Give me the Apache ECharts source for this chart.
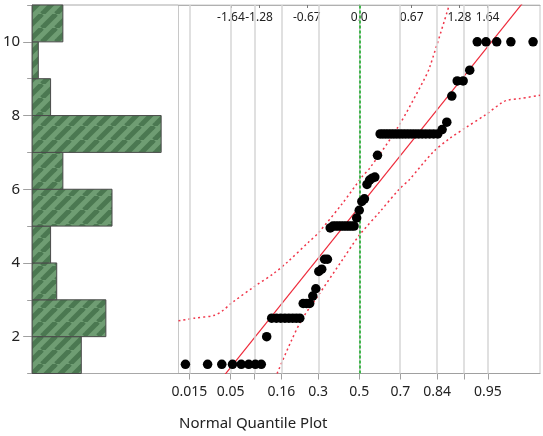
<!DOCTYPE html>
<html><head><meta charset="utf-8">
<script src="https://cdn.jsdelivr.net/npm/echarts@6/dist/echarts.min.js"></script>
<style>html,body{margin:0;padding:0;background:#fff}#c{width:543px;height:436px}</style>
</head><body><div id="c"></div>
<script>
// ---- data ----
const binStarts = [1, 2, 3, 4, 5, 6, 7, 8, 9, 10];
const binCounts = [8, 12, 4, 3, 13, 5, 21, 3, 1, 5];
const histMajorTicks = [2, 4, 6, 8, 10];
const histMinorTicks = [1, 3, 5, 7, 9, 11];
const sortedValues = [
  1.25, 1.25, 1.25, 1.25, 1.25, 1.25, 1.25, 1.25,
  2.0,
  2.5, 2.5, 2.5, 2.5, 2.5, 2.5, 2.5, 2.5,
  2.9, 2.9, 2.9,
  3.1, 3.3, 3.77, 3.83,
  4.1, 4.1, 4.95,
  5.0, 5.0, 5.0, 5.0, 5.0, 5.0, 5.0, 5.0, 5.0,
  5.22, 5.43, 5.67, 5.74,
  6.13, 6.25, 6.3, 6.33, 6.92,
  7.5, 7.5, 7.5, 7.5, 7.5, 7.5, 7.5, 7.5, 7.5, 7.5,
  7.5, 7.5, 7.5, 7.5, 7.5, 7.5, 7.5, 7.5, 7.5,
  7.62, 7.82,
  8.53, 8.94, 8.94,
  9.23,
  10, 10, 10, 10, 10
];
const zTickValues = [-1.64, -1.28, -0.67, 0, 0.67, 1.28, 1.64];
const zTickLabels = ['-1.64', '-1.28', '-0.67', '0.0', '0.67', '1.28', '1.64'];
const probGrid = [0.015, 0.05, 0.09, 0.16, 0.3, 0.5, 0.7, 0.84, 0.91, 0.95];
const probLabels = ['0.015', '0.05', '', '0.16', '0.3', '0.5', '0.7', '0.84', '', '0.95'];
const fitMean = 5.52;
const fitSd = 2.65;
const upperBandZ = [-2.31, -2.11, -1.85, -1.75, -1.62, -1.34, -1.09, -0.92, -0.64, -0.53, -0.21, 0.04, 0.13, 0.49, 0.83, 0.90, 1.15];
const upperBandV = [2.43, 2.50, 2.58, 2.70, 2.93, 3.36, 3.72, 4.02, 4.58, 4.80, 5.63, 6.35, 6.56, 7.67, 8.98, 9.31, 11.0];
const lowerBandZ = [-1.05, -0.87, -0.73, -0.53, -0.21, 0.0, 0.26, 0.51, 0.64, 0.94, 1.15, 1.36, 1.62, 1.83, 1.90, 2.05, 2.31];
const lowerBandV = [1.0, 1.88, 2.48, 3.1, 4.1, 4.75, 5.38, 6.0, 6.26, 7.0, 7.37, 7.67, 8.03, 8.36, 8.42, 8.46, 8.55];

// inverse standard normal CDF (plotting scale of a normal quantile plot)
function normInv(p){
  const a=[-3.969683028665376e+01,2.209460984245205e+02,-2.759285104469687e+02,1.383577518672690e+02,-3.066479806614716e+01,2.506628277459239e+00];
  const b=[-5.447609879822406e+01,1.615858368580409e+02,-1.556989798598866e+02,6.680131188771972e+01,-1.328068155288572e+01];
  const c=[-7.784894002430293e-03,-3.223964580411365e-01,-2.400758277161838e+00,-2.549732539343734e+00,4.374664141464968e+00,2.938163982698783e+00];
  const d=[7.784695709041462e-03,3.224671290700398e-01,2.445134137142996e+00,3.754408661907416e+00];
  const pl=0.02425, ph=1-pl; let q,r;
  if(p<pl){q=Math.sqrt(-2*Math.log(p));return (((((c[0]*q+c[1])*q+c[2])*q+c[3])*q+c[4])*q+c[5])/((((d[0]*q+d[1])*q+d[2])*q+d[3])*q+1);}
  if(p<=ph){q=p-0.5;r=q*q;return (((((a[0]*r+a[1])*r+a[2])*r+a[3])*r+a[4])*r+a[5])*q/(((((b[0]*r+b[1])*r+b[2])*r+b[3])*r+b[4])*r+1);}
  q=Math.sqrt(-2*Math.log(1-p));return -(((((c[0]*q+c[1])*q+c[2])*q+c[3])*q+c[4])*q+c[5])/((((d[0]*q+d[1])*q+d[2])*q+d[3])*q+1);
}

const n = sortedValues.length;
const points = sortedValues.map((v, i) => [normInv((i + 1) / (n + 1)), v]);
const probZ = probGrid.map(normInv);
const labeledZ = probZ.filter((z, i) => probLabels[i] !== '');
const Z_MIN = -2.31, Z_MAX = 2.31;
const fitData = [[Z_MIN, fitMean + fitSd * Z_MIN], [Z_MAX, fitMean + fitSd * Z_MAX]];
const upperData = upperBandZ.map((z, i) => [z, upperBandV[i]]);
const lowerData = lowerBandZ.map((z, i) => [z, lowerBandV[i]]);
const histData = binStarts.map((s, i) => [binCounts[i], s]);

// striped fill
function makeStripes(){
  const P = 14;
  const cv = document.createElement('canvas');
  cv.width = P; cv.height = P;
  const ctx = cv.getContext('2d');
  ctx.fillStyle = '#6f9d73';
  ctx.fillRect(0, 0, P, P);
  ctx.strokeStyle = '#4b7851';
  ctx.lineWidth = 5;
  for (const x0 of [-P, 0, P]) {
    ctx.beginPath(); ctx.moveTo(x0, P); ctx.lineTo(x0 + P, 0); ctx.stroke();
  }
  return cv;
}
const stripe = makeStripes();

const FONT = '"Noto Sans", "Open Sans", sans-serif';
const chart = echarts.init(document.getElementById('c'), null, {renderer: 'canvas'});
chart.setOption({
  animation: false,
  backgroundColor: '#fff',
  title: {
    text: 'Normal Quantile Plot', left: 179, top: 416, padding: 0,
    textStyle: {fontFamily: FONT, fontSize: 15, fontWeight: 'normal', color: '#222'}
  },
  grid: [
    {left: 31.5, top: 5, width: 147, height: 368.5, show: true, borderColor: '#a8a8a8', borderWidth: 1, backgroundColor: 'transparent'},
    {left: 178.5, top: 5, width: 361.5, height: 368.5, show: true, borderColor: '#c8c8c8', borderWidth: 1, backgroundColor: 'transparent'}
  ],
  xAxis: [
    {gridIndex: 0, type: 'value', min: 0, max: 147 / 6.17, show: false},
    {gridIndex: 1, type: 'value', min: Z_MIN, max: Z_MAX, position: 'bottom',
      axisLine: {show: true, lineStyle: {color: '#a0a0a0', width: 1}},
      axisTick: {show: true, length: 6, customValues: probZ, lineStyle: {color: '#a0a0a0'}},
      axisLabel: {show: true, customValues: labeledZ, margin: 12, fontFamily: FONT, fontSize: 14, color: '#222',
        formatter: v => { const i = probZ.findIndex(z => Math.abs(z - v) < 1e-6); return i >= 0 ? probLabels[i] : ''; }},
      splitLine: {show: false}},
    {gridIndex: 1, type: 'value', min: Z_MIN, max: Z_MAX, position: 'top',
      axisLine: {show: true, lineStyle: {color: '#b0b0b0', width: 1}},
      axisTick: {show: true, inside: true, length: 3, customValues: zTickValues, lineStyle: {color: '#777'}},
      axisLabel: {show: true, inside: true, customValues: zTickValues, margin: 7, fontFamily: FONT, fontSize: 12, color: '#222',
        formatter: v => { const i = zTickValues.findIndex(z => Math.abs(z - v) < 1e-6); return i >= 0 ? zTickLabels[i] : ''; }},
      splitLine: {show: false}}
  ],
  yAxis: [
    {gridIndex: 0, type: 'value', min: 1, max: 11, position: 'left',
      axisLine: {show: true, lineStyle: {color: '#a0a0a0'}},
      axisTick: {show: true, length: 9, customValues: histMajorTicks, lineStyle: {color: '#a0a0a0'}},
      axisLabel: {show: true, customValues: histMajorTicks, margin: 12, fontFamily: FONT, fontSize: 15, color: '#222'},
      splitLine: {show: false}},
    {gridIndex: 0, type: 'value', min: 1, max: 11, position: 'left',
      axisLine: {show: false},
      axisTick: {show: true, length: 5, customValues: histMinorTicks, lineStyle: {color: '#a0a0a0'}},
      axisLabel: {show: false}, splitLine: {show: false}},
    {gridIndex: 1, type: 'value', min: 1, max: 11, position: 'left',
      axisLine: {show: true, lineStyle: {color: '#8c8c8c'}},
      axisTick: {show: false}, axisLabel: {show: false}, splitLine: {show: false}}
  ],
  series: [
    {
      type: 'custom', xAxisIndex: 0, yAxisIndex: 0, data: histData, z: 2,
      renderItem: (params, api) => {
        const cnt = api.value(0), s = api.value(1);
        const p1 = api.coord([0, s + 1]);
        const p2 = api.coord([cnt, s]);
        return {type: 'rect', shape: {x: p1[0], y: p1[1], width: p2[0] - p1[0], height: p2[1] - p1[1]},
          style: {fill: {image: stripe, repeat: 'repeat'}, stroke: '#4a4a4a', lineWidth: 1}};
      }
    },
    {
      type: 'line', xAxisIndex: 1, yAxisIndex: 2, data: [], z: 1, silent: true,
      markLine: {silent: true, symbol: 'none', label: {show: false}, animation: false,
        lineStyle: {color: '#d6d6d6', width: 1.5, type: 'solid'},
        data: probZ.map(z => ({xAxis: z}))}
    },
    {
      type: 'line', xAxisIndex: 1, yAxisIndex: 2, data: [], z: 3, silent: true,
      markLine: {silent: true, symbol: 'none', label: {show: false}, animation: false,
        lineStyle: {color: '#3fb84a', width: 2, type: [3, 2]},
        data: [{xAxis: 0}]}
    },
    {type: 'line', xAxisIndex: 1, yAxisIndex: 2, data: fitData, z: 4, symbol: 'none', silent: true,
      lineStyle: {color: '#ee2b3b', width: 1.2}},
    {type: 'line', xAxisIndex: 1, yAxisIndex: 2, data: upperData, z: 4, symbol: 'none', silent: true, smooth: 0.3,
      lineStyle: {color: '#f0364a', width: 1.5, type: [2, 3]}},
    {type: 'line', xAxisIndex: 1, yAxisIndex: 2, data: lowerData, z: 4, symbol: 'none', silent: true, smooth: 0.3,
      lineStyle: {color: '#f0364a', width: 1.5, type: [2, 3]}},
    {type: 'scatter', xAxisIndex: 1, yAxisIndex: 2, data: points, z: 5, symbol: 'circle', symbolSize: 9.5,
      itemStyle: {color: '#000', opacity: 1}}
  ]
});
</script></body></html>
